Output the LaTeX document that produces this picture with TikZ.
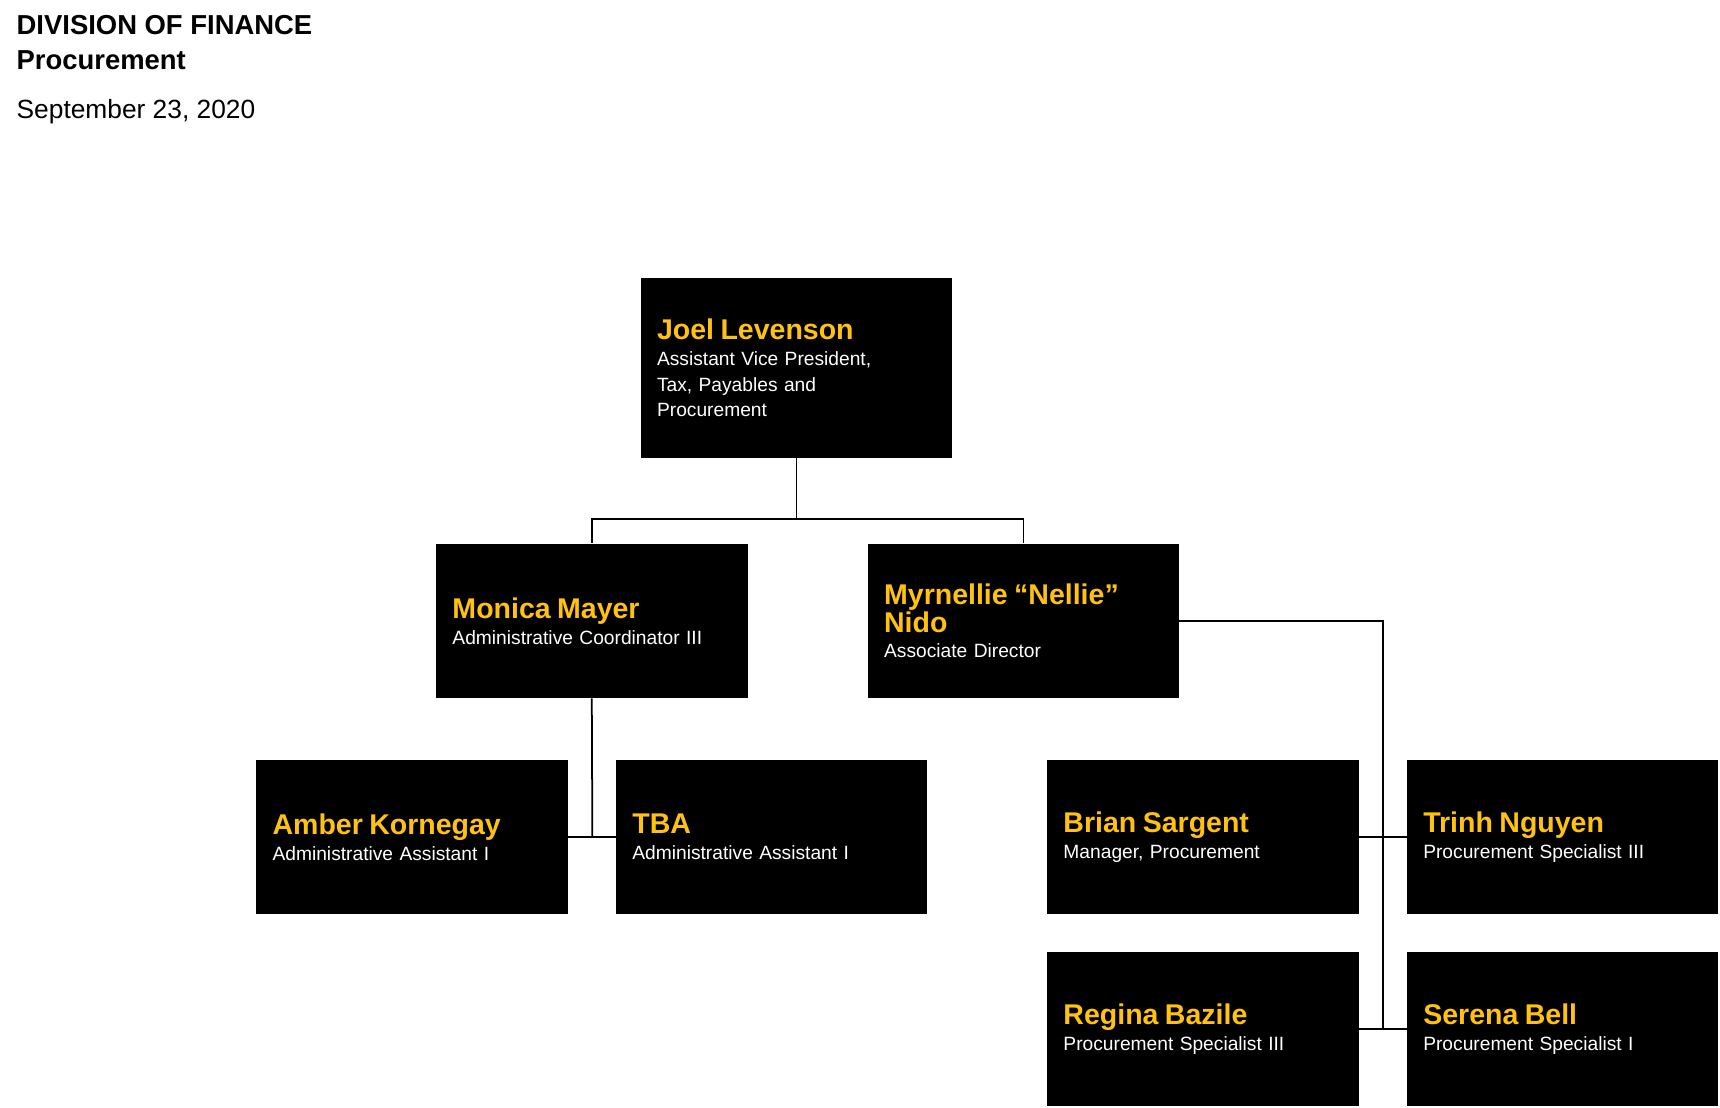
\documentclass[tikz,border=0pt]{standalone}
\usepackage{fontspec}
\setmainfont{Liberation Sans}
\definecolor{gold}{HTML}{FFC20E}
\newcommand{\pname}[1]{{\fontsize{26}{31}\selectfont\bfseries\color{gold}#1}}
\begin{document}
\begin{tikzpicture}[x=1pt,y=-1pt,
  box/.style={fill=black,text=white,inner sep=0pt,minimum width=284pt,minimum height=141pt,text width=254pt,align=left,font=\fontsize{17.5}{23.5}\selectfont},
  conn/.style={draw=black,line width=1.6pt},
  hdr/.style={anchor=base west,inner sep=0pt,font=\fontsize{25}{30}\selectfont\bfseries}]
\useasboundingbox (0,0) rectangle (1568,1010);
\node[hdr] (h1) at (15,31) {DIVISION OF FINANCE};
\node[hdr] (h2) at (15,63) {Procurement};
\node[hdr,font=\fontsize{24}{28}\selectfont] (h3) at (15,108) {September 23, 2020};

\node[box,minimum height=164pt] (joel) at (726,335.5) {\pname{Joel Levenson}\\Assistant Vice President,\\Tax, Payables and\\Procurement};
\node[box] (monica) at (539.5,566) {\pname{Monica Mayer}\\Administrative Coordinator III};
\node[box] (nellie) at (933,566) {\pname{Myrnellie “Nellie”}\\\pname{Nido}\\Associate Director};
\node[box] (amber) at (375.5,763) {\pname{Amber Kornegay}\\Administrative Assistant I};
\node[box] (tba) at (703.5,763) {\pname{TBA}\\Administrative Assistant I};
\node[box] (brian) at (1096.5,763) {\pname{Brian Sargent}\\Manager, Procurement};
\node[box] (trinh) at (1424.5,763) {\pname{Trinh Nguyen}\\Procurement Specialist III};
\node[box] (regina) at (1096.5,938) {\pname{Regina Bazile}\\Procurement Specialist III};
\node[box] (serena) at (1424.5,938) {\pname{Serena Bell}\\Procurement Specialist I};

\coordinate (j1) at (726,473);
\coordinate (mtee) at (540,763);
\coordinate (ntop) at (1261,566);
\coordinate (n1) at (1261,763);
\coordinate (n2) at (1261,938);

\draw[conn] (joel.south) -- (j1) -| (monica.north);
\draw[conn] (j1) -| (nellie.north);
\draw[conn] (monica.south) -- (mtee);
\draw[conn] (amber.east) -- (tba.west);
\draw[conn] (nellie.east) -- (ntop) -- (n2);
\draw[conn] (brian.east) -- (trinh.west);
\draw[conn] (regina.east) -- (serena.west);
\end{tikzpicture}
\end{document}
